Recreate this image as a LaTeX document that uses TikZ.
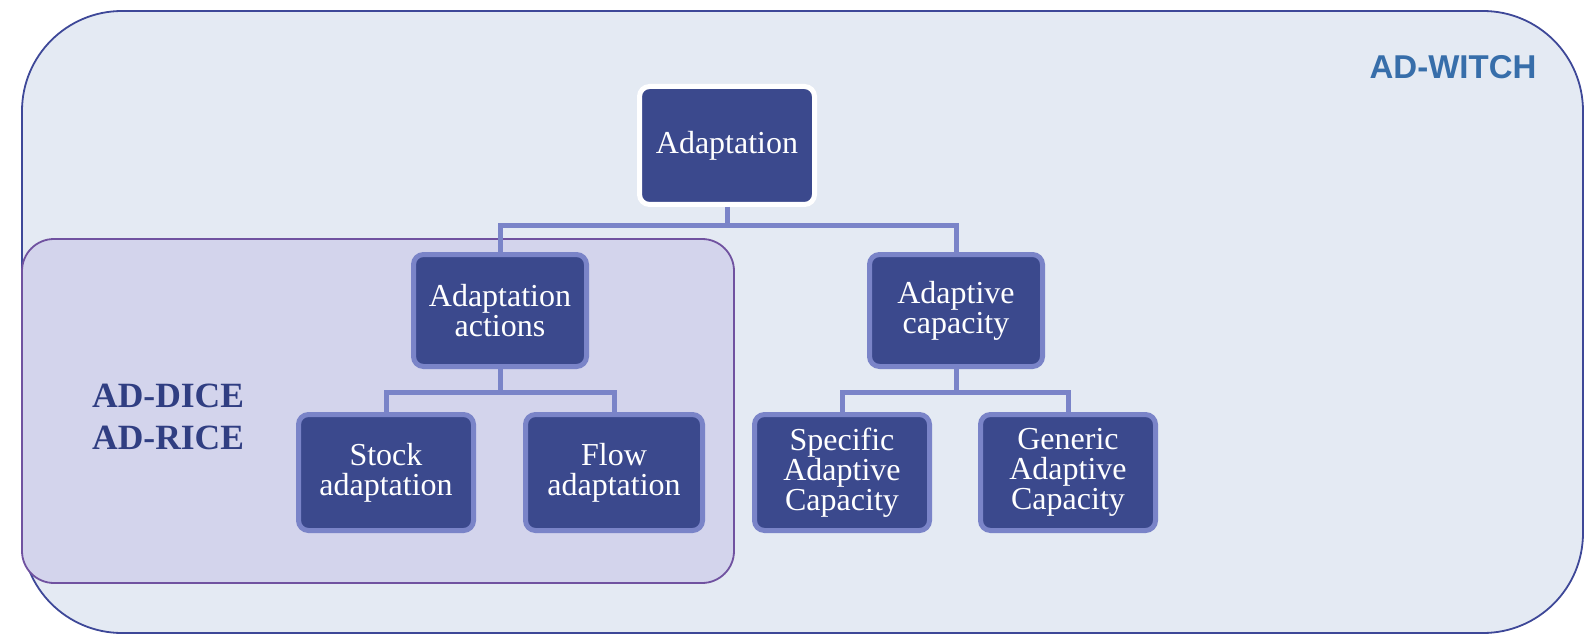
\documentclass[tikz,border=0pt]{standalone}
\usepackage{fontspec}
\setmainfont{Liberation Serif}
\newfontfamily\labsans{Liberation Sans}
\definecolor{outerfill}{RGB}{228,234,243}
\definecolor{outerdraw}{RGB}{62,72,152}
\definecolor{innerfill}{RGB}{211,212,236}
\definecolor{innerdraw}{RGB}{112,82,160}
\definecolor{nodefill}{RGB}{59,73,141}
\definecolor{nodeedge}{RGB}{122,132,200}
\definecolor{witchcol}{RGB}{55,110,170}
\definecolor{dicecol}{RGB}{48,62,130}
\tikzset{
  boxnode/.style={draw=nodeedge, line width=5pt, fill=nodefill, rounded corners=10pt,
    text=white, align=center, font=\fontsize{32}{30}\selectfont, inner sep=0pt},
  conn/.style={draw=nodeedge, line width=5pt},
}
\begin{document}
\begin{tikzpicture}[x=1pt,y=-1pt]
\useasboundingbox (0,0) rectangle (1590,639);
% outer AD-WITCH region
\draw[draw=outerdraw, fill=outerfill, line width=1.8pt, rounded corners=100pt] (22,11) rectangle (1583,633);
% inner AD-DICE region
\draw[draw=innerdraw, fill=innerfill, line width=1.8pt, rounded corners=32pt] (22,239) rectangle (734,583);
\node[font=\labsans\bfseries\fontsize{33}{33}\selectfont, text=witchcol] (witch) at (1453,67) {AD-WITCH};
\node[font=\bfseries\fontsize{35.5}{42}\selectfont, text=dicecol, align=left, anchor=west, inner sep=0pt] (dice) at (92,417) {AD-DICE\\AD-RICE};
% nodes
\node[boxnode, draw=white, minimum width=175pt, minimum height=118pt] (top) at (727,145.5) {Adaptation};
\node[boxnode, minimum width=173pt, minimum height=112pt] (aa) at (500,310.5) {Adaptation\\actions};
\node[boxnode, minimum width=173pt, minimum height=112pt] (ac) at (956,310.5) {Adaptive\\capacity};
\node[boxnode, minimum width=175pt, minimum height=116pt] (st) at (386,472.5) {Stock\\adaptation};
\node[boxnode, minimum width=177pt, minimum height=116pt] (fl) at (614,472.5) {Flow\\adaptation};
\node[boxnode, minimum width=175pt, minimum height=116pt] (sp) at (842,472.5) {Specific\\Adaptive\\Capacity};
\node[boxnode, minimum width=175pt, minimum height=116pt] (ge) at (1068,472.5) {Generic\\Adaptive\\Capacity};
% connectors
\coordinate (j1) at (0,226);
\coordinate (j2) at (0,392.5);
\draw[conn] (top.south) -- (top.south |- j1);
\draw[conn] (aa.north) |- (top.south |- j1) -| (ac.north);
\draw[conn] (aa.south) -- (aa.south |- j2);
\draw[conn] (st.north) |- (aa.south |- j2) -| (fl.north);
\draw[conn] (ac.south) -- (ac.south |- j2);
\draw[conn] (sp.north) |- (ac.south |- j2) -| (ge.north);
\end{tikzpicture}
\end{document}
